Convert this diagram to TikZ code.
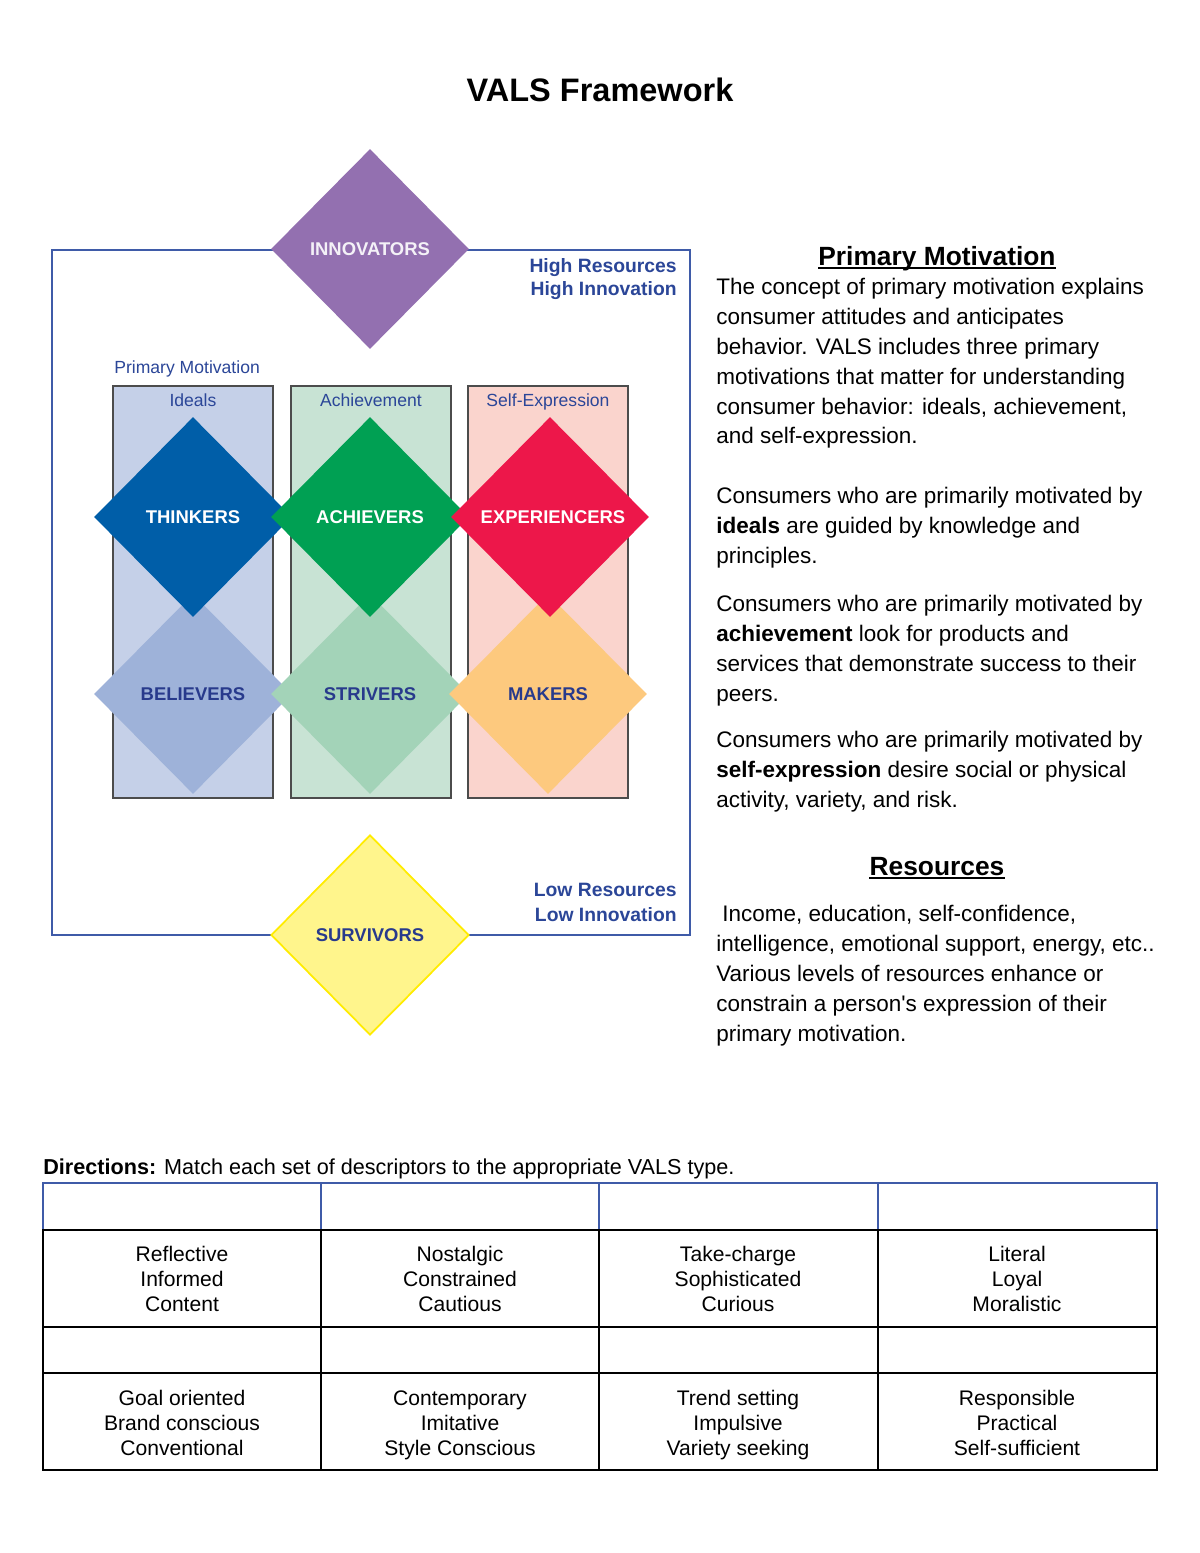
\documentclass[tikz,border=0pt]{standalone}
\usepackage{fontspec}
\setmainfont{Liberation Sans}
\usepackage{xcolor}
\usetikzlibrary{shapes.geometric, positioning}

\definecolor{frameblue}{RGB}{63,91,168}
\definecolor{textblue}{RGB}{43,70,152}
\definecolor{darkblue}{RGB}{40,58,140}
\definecolor{innovclr}{RGB}{147,112,176}
\definecolor{thinkclr}{RGB}{0,94,168}
\definecolor{achievclr}{RGB}{0,160,83}
\definecolor{experclr}{RGB}{237,23,74}
\definecolor{believclr}{RGB}{158,178,217}
\definecolor{striveclr}{RGB}{163,211,184}
\definecolor{makeclr}{RGB}{253,201,126}
\definecolor{survfill}{RGB}{255,245,140}
\definecolor{survline}{RGB}{255,236,0}
\definecolor{idealsbg}{RGB}{197,208,232}
\definecolor{achievbg}{RGB}{200,227,212}
\definecolor{selfbg}{RGB}{250,212,205}

\begin{document}
\begin{tikzpicture}[x=0.02cm, y=-0.02cm,
    vtype/.style={diamond, minimum width=3.96cm, minimum height=4cm, inner sep=0pt,
        font=\fontsize{10.5}{12}\selectfont\bfseries},
    colbox/.style={draw=black!70, line width=1.2pt},
    collabel/.style={anchor=base, inner sep=0pt, text=textblue, font=\fontsize{10}{12}\selectfont},
    corner/.style={anchor=base east, inner sep=0pt, text=textblue, font=\fontsize{11}{13}\selectfont\bfseries},
    para/.style={anchor=north west, align=left, inner sep=0pt, font=\fontsize{12.8}{17}\selectfont},
    heading/.style={anchor=base, inner sep=0pt, font=\fontsize{15}{18}\selectfont\bfseries},
    cell/.style={anchor=north, align=center, inner sep=0pt, font=\fontsize{12}{14.2}\selectfont}]

    % page
    \useasboundingbox (0,0) rectangle (1200,1553);
    \fill[white] (0,0) rectangle (1200,1553);

    \node (title) at (600,90) {\fontsize{18.5}{22}\selectfont\bfseries VALS Framework};

    % resources frame
    \draw[frameblue, line width=1.1pt] (52,250) rectangle (690,935);
    \node[corner] (highres) at (677,272) {High Resources};
    \node[corner] (highinno) at (677,295) {High Innovation};
    \node[corner] (lowres) at (677,896) {Low Resources};
    \node[corner] (lowinno) at (677,921) {Low Innovation};

    % motivation columns
    \node[collabel, anchor=base west] (primmot) at (114,373) {Primary Motivation};
    \draw[colbox, fill=idealsbg] (113,386) rectangle (273,798);
    \draw[colbox, fill=achievbg] (291,386) rectangle (451,798);
    \draw[colbox, fill=selfbg] (468,386) rectangle (628,798);
    \node[collabel] (ideals) at (193,406) {Ideals};
    \node[collabel] (achievement) at (371,406) {Achievement};
    \node[collabel] (selfexp) at (548,406) {Self-Expression};

    % lower resource types
    \node[vtype, fill=believclr, text=darkblue] (believers) at (193,694) {BELIEVERS};
    \node[vtype, fill=striveclr, text=darkblue] (strivers) at (370,694) {STRIVERS};
    \node[vtype, fill=makeclr, text=darkblue] (makers) at (548,694) {MAKERS};

    % higher resource types
    \node[vtype, fill=thinkclr, text=white] (thinkers) at (193,517) {THINKERS};
    \node[vtype, fill=achievclr, text=white] (achievers) at (370,517) {ACHIEVERS};
    \node[vtype, fill=experclr, text=white] (experiencers) at (550,517) {\hspace{0.12cm}EXPERIENCERS};

    \node[vtype, fill=innovclr, text=white!90!innovclr] (innovators) at (370,249) {INNOVATORS};
    \node[vtype, fill=survfill, draw=survline, line width=1pt, text=darkblue] (survivors) at (370,935) {SURVIVORS};

    % right hand text
    \node[heading] (pmhead) at (937,265) {Primary Motivation};
    \draw[line width=0.9pt] ([yshift=-1.8pt]pmhead.base west) -- ([yshift=-1.8pt]pmhead.base east);
    \node[para] (concept) at (716,278) {The concept of primary motivation explains\\
        consumer attitudes and anticipates\\
        behavior. VALS includes three primary\\
        motivations that matter for understanding\\
        consumer behavior: ideals, achievement,\\
        and self-expression.};
    \node[para] (idealtxt) at (716,487) {Consumers who are primarily motivated by\\
        \textbf{ideals} are guided by knowledge and\\
        principles.};
    \node[para] (achievtxt) at (716,595) {Consumers who are primarily motivated by\\
        \textbf{achievement} look for products and\\
        services that demonstrate success to their\\
        peers.};
    \node[para] (selftxt) at (716,731) {Consumers who are primarily motivated by\\
        \textbf{self-expression} desire social or physical\\
        activity, variety, and risk.};

    \node[heading] (reshead) at (937,875) {Resources};
    \draw[line width=0.9pt] ([yshift=-1.8pt]reshead.base west) -- ([yshift=-1.8pt]reshead.base east);
    \node[para] (restxt) at (716,905) {\hspace{0.12cm}Income, education, self-confidence,\\
        intelligence, emotional support, energy, etc..\\
        Various levels of resources enhance or\\
        constrain a person\textquotesingle s expression of their\\
        primary motivation.};

    % matching table
    \node[anchor=base west, inner sep=0pt, font=\fontsize{12.3}{14}\selectfont] (directions) at (43,1174)
        {\textbf{Directions:} Match each set of descriptors to the appropriate VALS type.};
    \draw[frameblue, line width=1.1pt] (43,1230) -- (43,1183) -- (1157,1183) -- (1157,1230);
    \draw[frameblue, line width=1.1pt] (321,1183) -- (321,1230);
    \draw[frameblue, line width=1.1pt] (599,1183) -- (599,1230);
    \draw[frameblue, line width=1.1pt] (878,1183) -- (878,1230);
    \draw[line width=1.4pt] (43,1230) rectangle (1157,1470);
    \draw[line width=1.4pt] (43,1327) -- (1157,1327);
    \draw[line width=1.4pt] (43,1373) -- (1157,1373);
    \draw[line width=1.4pt] (321,1230) -- (321,1470);
    \draw[line width=1.4pt] (599,1230) -- (599,1470);
    \draw[line width=1.4pt] (878,1230) -- (878,1470);

    \node[cell] (reflective) at (182,1244) {\strut Reflective\\Informed\\Content};
    \node[cell] (nostalgic) at (460,1244) {\strut Nostalgic\\Constrained\\Cautious};
    \node[cell] (takecharge) at (738,1244) {\strut Take-charge\\Sophisticated\\Curious};
    \node[cell] (literal) at (1017,1244) {\strut Literal\\Loyal\\Moralistic};
    \node[cell] (goal) at (182,1388) {\strut Goal oriented\\Brand conscious\\Conventional};
    \node[cell] (contemporary) at (460,1388) {\strut Contemporary\\Imitative\\Style Conscious};
    \node[cell] (trend) at (738,1388) {\strut Trend setting\\Impulsive\\Variety seeking};
    \node[cell] (responsible) at (1017,1388) {\strut Responsible\\Practical\\Self-sufficient};
\end{tikzpicture}
\end{document}
